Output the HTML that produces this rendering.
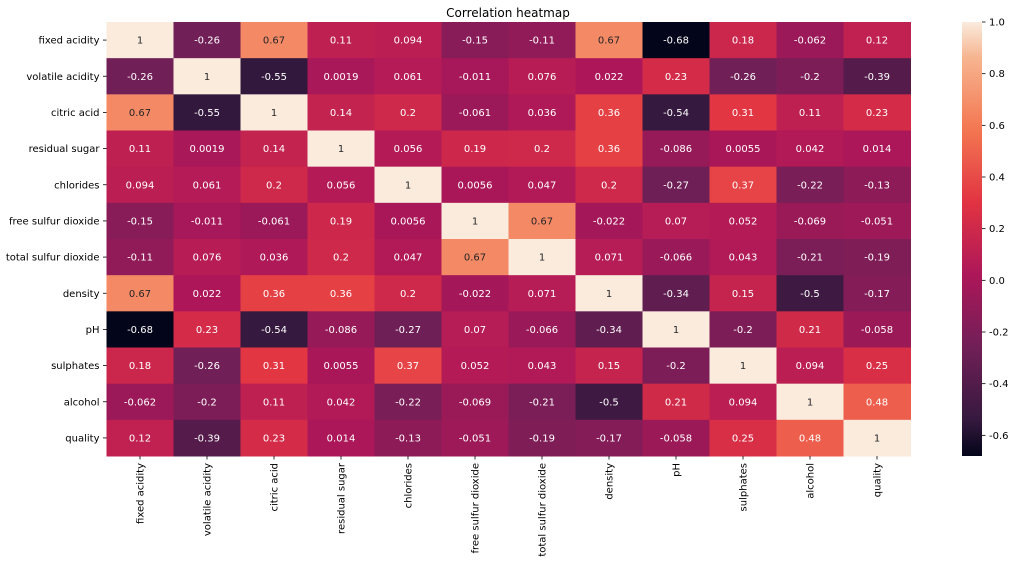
<!DOCTYPE html>
<html><head><meta charset="utf-8"><style>
body{margin:0;background:#fff;font-family:"Liberation Sans","DejaVu Sans",sans-serif}
svg text{font-family:"DejaVu Sans","Liberation Sans",sans-serif}
</style></head><body>
<svg id="chart" width="1022" height="566" viewBox="0 0 1022 566" xmlns="http://www.w3.org/2000/svg">
<defs><linearGradient id="rocket" x1="0" y1="1" x2="0" y2="0">
<stop offset="0" stop-color="#03051a"/><stop offset="0.083" stop-color="#35193e"/><stop offset="0.25" stop-color="#701f57"/><stop offset="0.417" stop-color="#ad1759"/><stop offset="0.583" stop-color="#e13342"/><stop offset="0.75" stop-color="#f37651"/><stop offset="0.917" stop-color="#f6b48f"/><stop offset="1" stop-color="#faebdd"/>
</linearGradient></defs>
<text x="508" y="17" text-anchor="middle" font-size="12">Correlation heatmap</text>
<g id="cells"></g><g id="axes"></g>
</svg>
<script>
const labels=["fixed acidity","volatile acidity","citric acid","residual sugar","chlorides","free sulfur dioxide","total sulfur dioxide","density","pH","sulphates","alcohol","quality"];
const rowFA=[1,-0.26,0.67,0.11,0.094,-0.15,-0.11,0.67,-0.68,0.18,-0.062,0.12];
const rowVA=[-0.26,1,-0.55,0.0019,0.061,-0.011,0.076,0.022,0.23,-0.26,-0.2,-0.39];
const rowCA=[0.67,-0.55,1,0.14,0.2,-0.061,0.036,0.36,-0.54,0.31,0.11,0.23];
const rowRS=[0.11,0.0019,0.14,1,0.056,0.19,0.2,0.36,-0.086,0.0055,0.042,0.014];
const rowCl=[0.094,0.061,0.2,0.056,1,0.0056,0.047,0.2,-0.27,0.37,-0.22,-0.13];
const rowFSD=[-0.15,-0.011,-0.061,0.19,0.0056,1,0.67,-0.022,0.07,0.052,-0.069,-0.051];
const rowTSD=[-0.11,0.076,0.036,0.2,0.047,0.67,1,0.071,-0.066,0.043,-0.21,-0.19];
const rowD=[0.67,0.022,0.36,0.36,0.2,-0.022,0.071,1,-0.34,0.15,-0.5,-0.17];
const rowPH=[-0.68,0.23,-0.54,-0.086,-0.27,0.07,-0.066,-0.34,1,-0.2,0.21,-0.058];
const rowS=[0.18,-0.26,0.31,0.0055,0.37,0.052,0.043,0.15,-0.2,1,0.094,0.25];
const rowAl=[-0.062,-0.2,0.11,0.042,-0.22,-0.069,-0.21,-0.5,0.21,0.094,1,0.48];
const rowQ=[0.12,-0.39,0.23,0.014,-0.13,-0.051,-0.19,-0.17,-0.058,0.25,0.48,1];
const matrix=[rowFA,rowVA,rowCA,rowRS,rowCl,rowFSD,rowTSD,rowD,rowPH,rowS,rowAl,rowQ];
const cbTicks=[1.0,0.8,0.6,0.4,0.2,0.0,-0.2,-0.4,-0.6];
const vmin=-0.68,vmax=1.0;
const L=106.5,T=22,W=804,H=434,n=labels.length,cw=W/n,ch=H/n;
const CBX=962,CBW=20;
const stops=[[0,[3,5,26]],[0.083,[53,25,62]],[0.25,[112,31,87]],[0.417,[173,23,89]],[0.583,[225,51,66]],[0.75,[243,118,81]],[0.917,[246,180,143]],[1,[250,235,221]]];
function color(v){let t=Math.max(0,Math.min(1,(v-vmin)/(vmax-vmin)));for(let i=1;i<stops.length;i++){if(t<=stops[i][0]){const a=stops[i-1],b=stops[i],f=(t-a[0])/(b[0]-a[0]);const c=a[1].map((x,k)=>Math.round(x+(b[1][k]-x)*f));return {c:`rgb(${c})`,lum:(0.299*c[0]+0.587*c[1]+0.114*c[2])/255};}}return {c:"#faebdd",lum:0.9};}
const NS="http://www.w3.org/2000/svg";
function mk(tag,attrs,parent){const e=document.createElementNS(NS,tag);for(const k in attrs)e.setAttribute(k,attrs[k]);parent.appendChild(e);return e;}
const cells=document.getElementById('cells'),axes=document.getElementById('axes');
matrix.forEach((row,r)=>row.forEach((v,c)=>{const col=color(v);
const rc=mk('rect',{x:L+c*cw,y:T+r*ch,width:cw+0.5,height:ch+0.5,fill:col.c},cells);


const tx=mk('text',{x:L+(c+0.5)*cw,y:T+(r+0.5)*ch+3.5,'text-anchor':'middle','font-size':'10',fill:col.lum>0.55?'#262626':'#ffffff'},cells);
tx.textContent=String(v);


}));
labels.forEach((lab,i)=>{
const yc=T+(i+0.5)*ch;
mk('line',{x1:L-3.5,x2:L,y1:yc,y2:yc,stroke:'#000','stroke-width':0.8},axes);
const yl=mk('text',{x:L-7,y:yc+3.5,'text-anchor':'end','font-size':'10',fill:'#000'},axes);
yl.textContent=lab;


const xc=L+(i+0.5)*cw;
mk('line',{x1:xc,x2:xc,y1:T+H,y2:T+H+3.5,stroke:'#000','stroke-width':0.8},axes);
const xl=mk('text',{x:0,y:0,'text-anchor':'end','font-size':'10',fill:'#000',transform:`translate(${xc+3.5},${T+H+7}) rotate(-90)`},axes);
xl.textContent=lab;


});
const cb=mk('rect',{x:CBX,y:T,width:CBW,height:H,fill:'url(#rocket)'},axes);


cbTicks.forEach(t=>{const y=T+(vmax-t)/(vmax-vmin)*H;
mk('line',{x1:CBX+CBW,x2:CBX+CBW+3.5,y1:y,y2:y,stroke:'#000','stroke-width':0.8},axes);
const tl=mk('text',{x:CBX+CBW+7,y:y+3.5,'font-size':'10',fill:'#000'},axes);
tl.textContent=t.toFixed(1);


});
</script>
</body></html>
